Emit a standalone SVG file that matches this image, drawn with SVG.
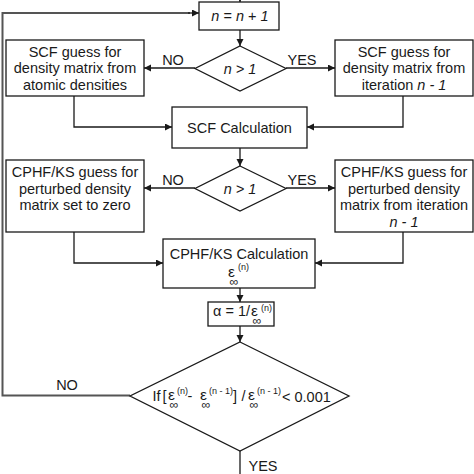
<svg xmlns="http://www.w3.org/2000/svg" width="474" height="474" viewBox="0 0 474 474">
<defs>
<marker id="ah" markerUnits="userSpaceOnUse" markerWidth="8" markerHeight="8" refX="7" refY="3.5" orient="auto">
<path d="M0,0 L7,3.5 L0,7 z" fill="#1a1a1a"/>
</marker>
<style>
.box{fill:#fff;stroke:#1a1a1a;stroke-width:1.3}
.t{font-family:"Liberation Sans",Arial,sans-serif;font-size:14.5px;fill:#1a1a1a;text-anchor:middle}
.s{font-family:"Liberation Sans",Arial,sans-serif;font-size:14.5px;fill:#1a1a1a}
.e{font-size:15.5px}
.sup{font-size:9px}
.sub{font-size:12.5px}
.c{fill:none;stroke:#1a1a1a;stroke-width:1.3}
.loop{fill:none;stroke:#555;stroke-width:2}
</style>
</defs>
<rect width="474" height="474" fill="#fff"/>
<g id="connectors">
<path class="c" d="M240,-10 V2" marker-end="url(#ah)"/>
<path class="loop" d="M130,395.5 H2.5 V13 H190"/>
<path class="c" d="M188,13 H199" marker-end="url(#ah)"/>
<path class="c" d="M240,30 V46" marker-end="url(#ah)"/>
<path class="c" d="M195,68 H144" marker-end="url(#ah)"/>
<path class="c" d="M286,68 H335" marker-end="url(#ah)"/>
<path class="c" d="M74,96 V127 H172" marker-end="url(#ah)"/>
<path class="c" d="M403,96 V127 H307" marker-end="url(#ah)"/>
<path class="c" d="M240,148 V166" marker-end="url(#ah)"/>
<path class="c" d="M195,188 H144" marker-end="url(#ah)"/>
<path class="c" d="M286,188 H335" marker-end="url(#ah)"/>
<path class="c" d="M74,232 V263 H163" marker-end="url(#ah)"/>
<path class="c" d="M403,232 V263 H315" marker-end="url(#ah)"/>
<path class="c" d="M240,288 V302" marker-end="url(#ah)"/>
<path class="c" d="M240,326 V342" marker-end="url(#ah)"/>
<path class="c" d="M240,451 V474"/>
<text class="t" x="173" y="65">NO</text>
<text class="t" x="302" y="65">YES</text>
<text class="t" x="173" y="185">NO</text>
<text class="t" x="302" y="185">YES</text>
<text class="t" x="67" y="390">NO</text>
<text class="t" x="263" y="471">YES</text>
</g>
<g id="n-increment">
<rect class="box" x="199" y="2" width="80" height="28"/>
<text class="t" x="240" y="21"><tspan font-style="italic">n</tspan> = <tspan font-style="italic">n</tspan> + <tspan font-style="italic">1</tspan></text>
</g>
<g id="decision1">
<polygon class="box" points="240,46 286,68.5 240,91 195,68.5"/>
<text class="t" x="240" y="73.5" font-style="italic">n &gt; 1</text>
</g>
<g id="scf-guess-atomic">
<rect class="box" x="6" y="40" width="138" height="56"/>
<text class="t" x="75" y="57">SCF guess for</text>
<text class="t" x="75" y="73">density matrix from</text>
<text class="t" x="75" y="90">atomic densities</text>
</g>
<g id="scf-guess-iter">
<rect class="box" x="335" y="40" width="138" height="56"/>
<text class="t" x="404" y="57">SCF guess for</text>
<text class="t" x="404" y="73">density matrix from</text>
<text class="t" x="404" y="90">iteration <tspan font-style="italic">n - 1</tspan></text>
</g>
<g id="scf-calc">
<rect class="box" x="172" y="107" width="135" height="41"/>
<text class="t" x="239.5" y="133">SCF Calculation</text>
</g>
<g id="decision2">
<polygon class="box" points="240,166 286,188.5 240,211 195,188.5"/>
<text class="t" x="240" y="193.5" font-style="italic">n &gt; 1</text>
</g>
<g id="cphf-guess-zero">
<rect class="box" x="6" y="160" width="138" height="72"/>
<text class="t" x="75" y="177">CPHF/KS guess for</text>
<text class="t" x="75" y="194">perturbed density</text>
<text class="t" x="75" y="210">matrix set to zero</text>
</g>
<g id="cphf-guess-iter">
<rect class="box" x="335" y="160" width="138" height="72"/>
<text class="t" x="404" y="177">CPHF/KS guess for</text>
<text class="t" x="404" y="194">perturbed density</text>
<text class="t" x="404" y="210">matrix from iteration</text>
<text class="t" x="404" y="227" font-style="italic">n - 1</text>
</g>
<g id="cphf-calc">
<rect class="box" x="163" y="239" width="152" height="49"/>
<text class="t" x="239" y="259">CPHF/KS Calculation</text>
<text class="s"><tspan class="e" x="228" y="277">ε</tspan><tspan class="sup" x="238" y="270">(n)</tspan><tspan class="sub" x="229.5" y="286">∞</tspan></text>
</g>
<g id="alpha">
<rect class="box" x="208" y="302" width="66" height="24"/>
<text class="s"><tspan x="213" y="316">α = 1/</tspan><tspan class="e" x="251" y="316">ε</tspan><tspan class="sup" x="261" y="311">(n)</tspan><tspan class="sub" x="252.5" y="324.5">∞</tspan></text>
</g>
<g id="convergence">
<polygon class="box" points="240,342 349,396 240,451 130,396"/>
<text class="s"><tspan x="152.5" y="401">If</tspan><tspan x="162.5" y="401">[</tspan><tspan class="e" x="168" y="400">ε</tspan><tspan class="sup" x="177" y="394">(n)</tspan><tspan class="sub" x="169.5" y="409">∞</tspan><tspan x="187.5" y="401">-</tspan><tspan class="e" x="200" y="400">ε</tspan><tspan class="sup" x="209" y="394">(n - 1)</tspan><tspan class="sub" x="201.5" y="409">∞</tspan><tspan x="233" y="401">]</tspan><tspan x="241.5" y="401">/</tspan><tspan class="e" x="248" y="400">ε</tspan><tspan class="sup" x="257" y="394">(n - 1)</tspan><tspan class="sub" x="249.5" y="409">∞</tspan><tspan x="282" y="402">&lt; 0.001</tspan></text>
</g>
</svg>
